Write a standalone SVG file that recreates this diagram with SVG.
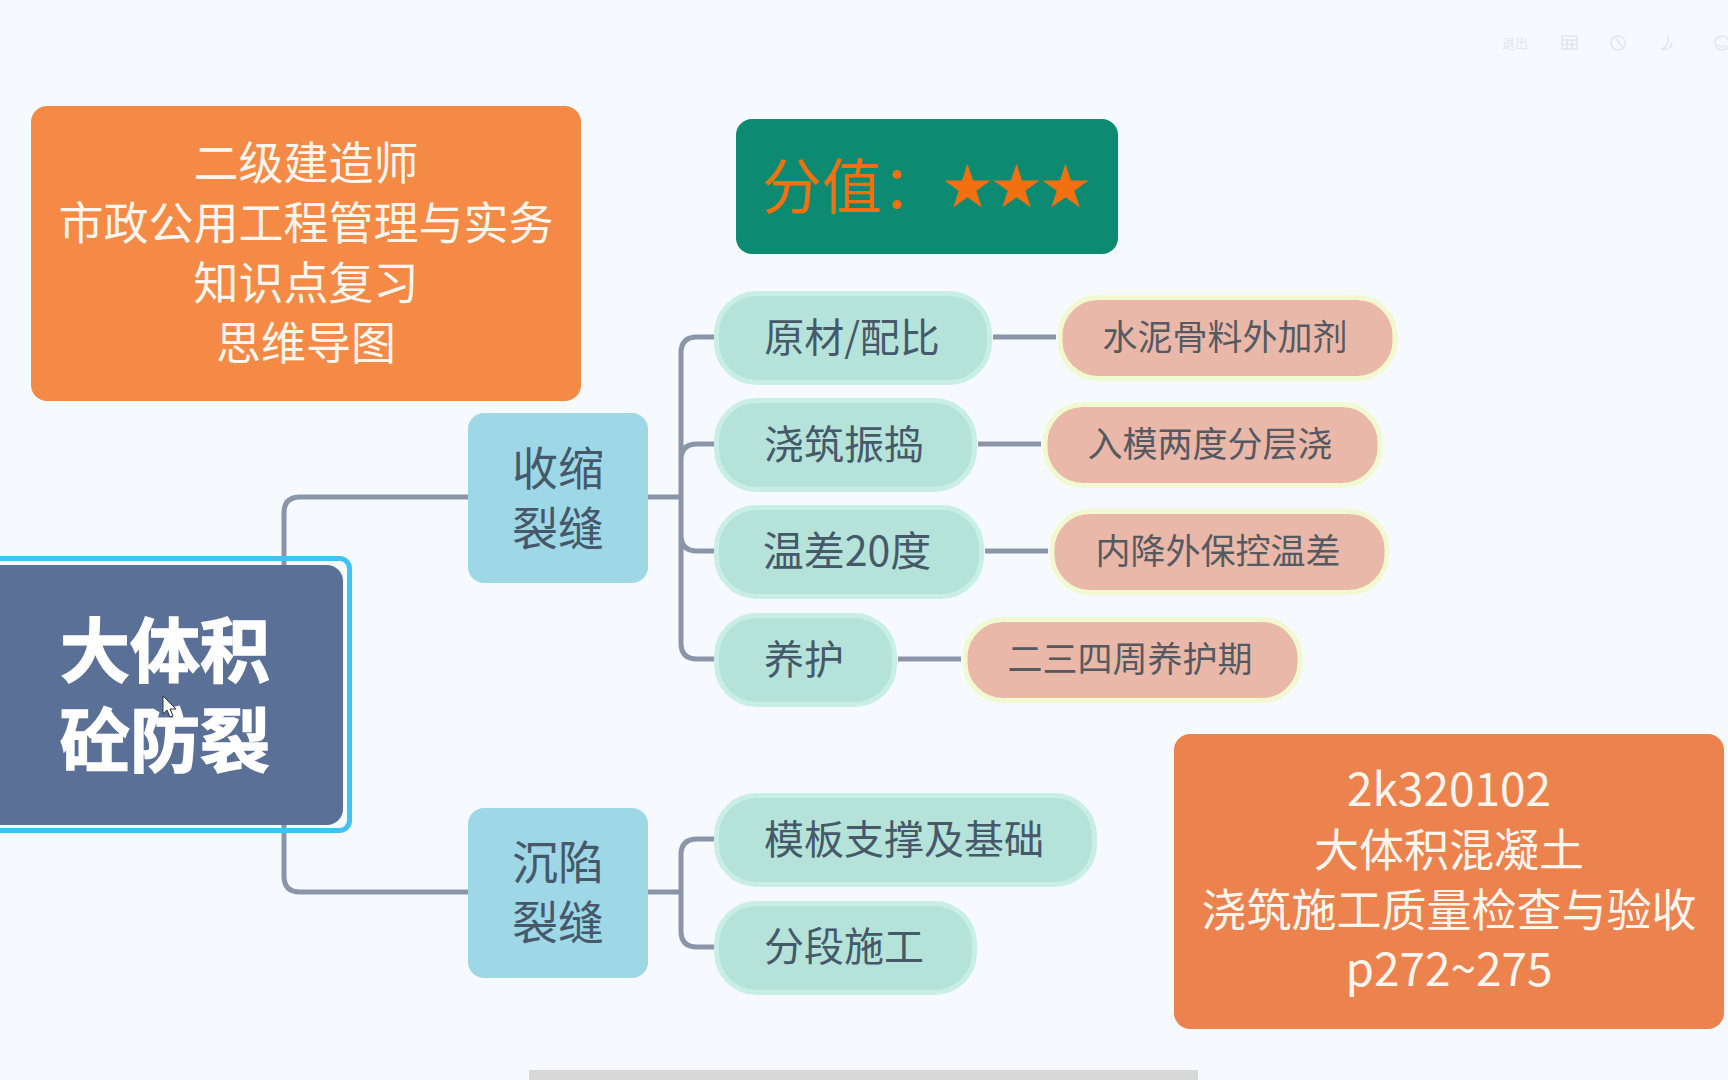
<svg xmlns="http://www.w3.org/2000/svg" width="1728" height="1080" viewBox="0 0 1728 1080">
<style>
text{font-family:"Noto Sans CJK SC","Noto Sans",sans-serif;text-anchor:middle}
.c{fill:none;stroke:#8a96a8;stroke-width:5}
.b1{fill:#b5e3d9;stroke:#c9efe5;stroke-width:5}
.b2{fill:#eab8a8;stroke:#f2f8d0;stroke-width:5}
.t1{font-size:40px;fill:#46596a}
.t2{font-size:35px;fill:#555a62}
.t3{font-size:46px;fill:#46596a}
.w{font-size:45px;fill:#fdf6ee}
.k{fill:#9ed8e6}
</style>
<rect width="1728" height="1080" fill="#f6faff"/>
<g id="connectors">
<path class="c" d="M468 497H300Q284 497 284 513V876Q284 892 300 892H468"/>
<path class="c" d="M648 497H681M714 337H697Q681 337 681 353V643Q681 659 697 659H714M714 444H697Q681 444 681 460V535Q681 551 697 551H714"/>
<path class="c" d="M648 892H681M714 839H697Q681 839 681 855V931Q681 947 697 947H714"/>
<path class="c" d="M993 337H1056M978 444H1041M985 551H1048M898 659H961"/>
</g>
<g id="root">
<rect x="-20" y="558.500" width="369.500" height="272" rx="10" fill="none" stroke="#3fc3f5" stroke-width="5"/>
<rect x="-20" y="565" width="363" height="260" rx="16" fill="#5b7097"/>
<text x="165" y="677" font-size="70" font-weight="700" fill="#fff" stroke="#fff" stroke-width="1.500">大体积</text>
<text x="165" y="767" font-size="70" font-weight="700" fill="#fff" stroke="#fff" stroke-width="1.500">砼防裂</text>
<path d="M163 696v18l4-4 3 7 3-1-3-7h6z" fill="#fff" stroke="#334" stroke-width="1"/>
</g>
<g id="note-title">
<rect x="31" y="106" width="550" height="295" rx="16" fill="#f58a46"/>
<text class="w" x="306" y="180">二级建造师</text>
<text class="w" x="306" y="240">市政公用工程管理与实务</text>
<text class="w" x="306" y="300">知识点复习</text>
<text class="w" x="306" y="360">思维导图</text>
</g>
<g id="note-score">
<rect x="736" y="119" width="382" height="135" rx="16" fill="#0d8a72"/>
<text x="762" y="209" font-size="60" fill="#f27010" style="text-anchor:start">分值：<tspan x="943" y="204" font-size="49">★★★</tspan></text>
</g>
<g id="note-ref">
<rect x="1174" y="734" width="550" height="295" rx="16" fill="#ec824e"/>
<text class="w" x="1449" y="806" style="font-size:46px">2k320102</text>
<text class="w" x="1449" y="867">大体积混凝土</text>
<text class="w" x="1449" y="927">浇筑施工质量检查与验收</text>
<text class="w" x="1449" y="986" style="font-size:46px">p272~275</text>
</g>
<g id="n-shrink">
<rect class="k" x="468" y="413" width="180" height="170" rx="16"/>
<text class="t3" x="558" y="485">收缩</text>
<text class="t3" x="558" y="545">裂缝</text>
</g>
<g id="n-settle">
<rect class="k" x="468" y="808" width="180" height="170" rx="16"/>
<text class="t3" x="558" y="879">沉陷</text>
<text class="t3" x="558" y="939">裂缝</text>
</g>
<g id="n1"><rect class="b1" x="716.500" y="293.500" width="273" height="89" rx="40"/><text class="t1" x="852" y="351.500">原材/配比</text></g>
<g id="n2"><rect class="b1" x="716.500" y="400.500" width="258" height="89" rx="40"/><text class="t1" x="844" y="458.500">浇筑振捣</text></g>
<g id="n3"><rect class="b1" x="716.500" y="507.500" width="265" height="89" rx="40"/><text class="t1" x="847" y="566" style="font-size:41px">温差20度</text></g>
<g id="n4"><rect class="b1" x="716.500" y="615.500" width="178" height="89" rx="40"/><text class="t1" x="804" y="673.500">养护</text></g>
<g id="n5"><rect class="b1" x="716.500" y="795.500" width="378" height="89" rx="40"/><text class="t1" x="904" y="854">模板支撑及基础</text></g>
<g id="n6"><rect class="b1" x="716.500" y="903.500" width="258" height="89" rx="40"/><text class="t1" x="844" y="961">分段施工</text></g>
<g id="s1"><rect class="b2" x="1060" y="297.500" width="335" height="81" rx="38"/><text class="t2" x="1225" y="350">水泥骨料外加剂</text></g>
<g id="s2"><rect class="b2" x="1045" y="404.500" width="335" height="81" rx="38"/><text class="t2" x="1210" y="457">入模两度分层浇</text></g>
<g id="s3"><rect class="b2" x="1052" y="511.500" width="335" height="81" rx="38"/><text class="t2" x="1218" y="564">内降外保控温差</text></g>
<g id="s4"><rect class="b2" x="965" y="619.500" width="335" height="81" rx="38"/><text class="t2" x="1130" y="672">二三四周养护期</text></g>
<rect x="529" y="1070" width="669" height="10" fill="#d8d8d8"/>
<g fill="none" stroke="#e2e5ea" stroke-width="1.500">
<path d="M1562 36h15v13h-15zM1562 40h15M1562 44.500h15M1567 40v9M1572 40v9"/>
<circle cx="1618" cy="43" r="7"/><path d="M1617 38l2 5 3 3"/>
<path d="M1668 36q2 9-6 13q9 2 10-7"/>
<circle cx="1722" cy="43" r="7"/><path d="M1718 45q4 4 8 0"/>
</g>
<text x="1515" y="48" font-size="13" fill="#e2e5ea">退出</text>
</svg>
